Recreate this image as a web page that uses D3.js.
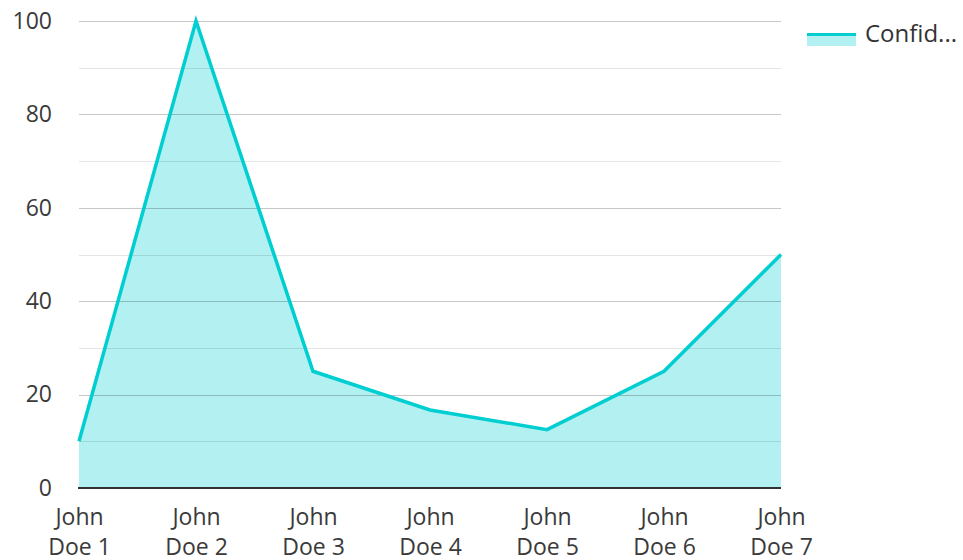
<!DOCTYPE html>
<html>
<head>
<meta charset="utf-8">
<script src="https://cdn.jsdelivr.net/npm/d3@7"></script>
<style>
  html, body { margin: 0; padding: 0; background: #fff; }
  svg { display: block; font-family: "Open Sans", "Noto Sans", sans-serif; }
</style>
</head>
<body>
<svg id="chart" width="963" height="560"></svg>
<script>
// Confidence per person
const categories = ["John Doe 1", "John Doe 2", "John Doe 3", "John Doe 4", "John Doe 5", "John Doe 6", "John Doe 7"];
const confidence = [10, 100, 25, 16.7, 12.5, 25, 50];
const yTicks = [0, 20, 40, 60, 80, 100];
const yMinorTicks = [10, 30, 50, 70, 90];
const seriesName = "Confidence";

const svg = d3.select("#chart");
const margin = { left: 79, right: 182, top: 21, bottom: 72 };
const W = 963, H = 560;

const x = d3.scalePoint().domain(categories).range([margin.left, W - margin.right]);
const y = d3.scaleLinear().domain([0, 100]).range([H - margin.bottom, margin.top]);

const lineColor = "#00ced1";
const fillColor = "#00ced1";

// Area under the line
const area = d3.area().x(d => x(d.c)).y0(y(0)).y1(d => y(d.v));
const line = d3.line().x(d => x(d.c)).y(d => y(d.v));
const data = categories.map((c, i) => ({ c, v: confidence[i] }));

svg.append("path").datum(data)
  .attr("d", area)
  .attr("fill", fillColor)
  .attr("fill-opacity", 0.3);

// Grid lines
const grid = svg.append("g");
grid.selectAll("line.minor").data(yMinorTicks).join("line")
  .attr("class", "minor")
  .attr("x1", margin.left).attr("x2", W - margin.right)
  .attr("y1", d => Math.round(y(d)) + 0.5).attr("y2", d => Math.round(y(d)) + 0.5)
  .attr("stroke", "#000").attr("stroke-opacity", 0.1).attr("stroke-width", 1);
grid.selectAll("line.major").data(yTicks.filter(t => t !== 0)).join("line")
  .attr("class", "major")
  .attr("x1", margin.left).attr("x2", W - margin.right)
  .attr("y1", d => Math.round(y(d)) + 0.5).attr("y2", d => Math.round(y(d)) + 0.5)
  .attr("stroke", "#000").attr("stroke-opacity", 0.22).attr("stroke-width", 1);

// Baseline
svg.append("line")
  .attr("x1", margin.left - 1).attr("x2", W - margin.right)
  .attr("y1", y(0)).attr("y2", y(0))
  .attr("stroke", "#333").attr("stroke-width", 2);

// Series line
svg.append("path").datum(data)
  .attr("d", line)
  .attr("fill", "none")
  .attr("stroke", lineColor)
  .attr("stroke-width", 3.5)
  .attr("stroke-linejoin", "miter");

// Y axis labels
const yAxis = d3.axisLeft(y).tickValues(yTicks).tickSize(0).tickPadding(0);
const gy = svg.append("g").attr("transform", `translate(${margin.left - 27},0)`).call(yAxis);
gy.select(".domain").remove();
gy.selectAll("text")
  .attr("font-size", 23).attr("fill", "#3a3a3a")
  .attr("font-family", "'Open Sans', 'Noto Sans', sans-serif");

// X axis labels (two lines)
const xAxis = d3.axisBottom(x).tickSize(0).tickFormat("");
const gx = svg.append("g").attr("transform", `translate(0,${y(0)})`).call(xAxis);
gx.select(".domain").remove();
gx.selectAll(".tick").each(function(d) {
  const parts = d.split(" ");
  const t = d3.select(this).append("text")
    .attr("text-anchor", "middle")
    .attr("fill", "#3a3a3a")
    .attr("font-size", 23)
    .attr("font-family", "'Open Sans', 'Noto Sans', sans-serif");
  t.append("tspan").attr("x", 0).attr("y", 37).text(parts[0]);
  t.append("tspan").attr("x", 0).attr("y", 67).text(parts.slice(1).join(" "));
});

// Legend
const lg = svg.append("g").attr("transform", "translate(807,33)");
lg.append("rect").attr("x", 0).attr("y", 0).attr("width", 49).attr("height", 13)
  .attr("fill", fillColor).attr("fill-opacity", 0.3);
lg.append("line").attr("x1", 0).attr("x2", 49).attr("y1", 1.5).attr("y2", 1.5)
  .attr("stroke", lineColor).attr("stroke-width", 3);
lg.append("text").attr("x", 58).attr("y", 9)
  .attr("font-size", 24).attr("fill", "#333")
  .attr("font-family", "'Open Sans', 'Noto Sans', sans-serif")
  .text(seriesName.slice(0, 6) + "...");
</script>
</body>
</html>
